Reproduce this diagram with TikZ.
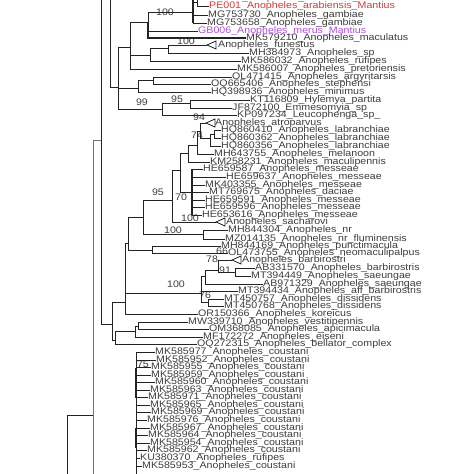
\documentclass[tikz,border=0pt]{standalone}
\usepackage{fontspec}
\newfontfamily\lf{Liberation Sans}[FakeStretch=1.12]
\definecolor{txt}{RGB}{62,62,62}
\definecolor{redl}{RGB}{205,60,60}
\definecolor{purl}{RGB}{175,80,215}
\definecolor{ln}{RGB}{35,35,35}
\begin{document}
\begin{tikzpicture}[x=1pt,y=-1pt,
  lab/.style={anchor=west,inner sep=0pt,font=\lf\fontsize{9.5}{9.5}\selectfont,text=txt,text height=6.8pt,text depth=1.9pt},
  supp/.style={inner sep=0pt,font=\lf\fontsize{9.5}{9.5}\selectfont,text=txt},
  br/.style={draw=ln,line width=0.8pt},
  thk/.style={draw=ln,line width=1.7pt},
  thn/.style={draw=black!55,line width=0.6pt},
  tri/.style={draw=ln,line width=0.8pt,fill=white}]
\useasboundingbox (0,0) rectangle (474,474);
\clip (0,0) rectangle (474,474);
\fill[white] (0,0) rectangle (474,474);

% ---------- internal nodes ----------
\coordinate (R67) at (67,520);
\coordinate (N93) at (93,415);
\coordinate (Nlow) at (120,700);
\coordinate (N101) at (101,140);
\coordinate (N110) at (110,-20);
\coordinate (Ntop) at (130,-60);
\coordinate (N118) at (118,87);
\coordinate (M130) at (130,47);
\coordinate (G148) at (148,22);
\coordinate (G193) at (193,12);
\coordinate (G197) at (197,2);
\coordinate (F150) at (150,55);
\coordinate (F168) at (168,48);
\coordinate (S138) at (138,88);
\coordinate (S153) at (153,80);
\coordinate (K162) at (162,109);
\coordinate (K190) at (190,103);
\coordinate (N112) at (112,324);
\coordinate (Q125) at (125,302);
\coordinate (P128) at (128,243);
\coordinate (M143) at (143,217);
\coordinate (M172) at (172,200);
\coordinate (M180) at (180,170);
\coordinate (L188) at (188,153);
\coordinate (L197) at (197,145);
\coordinate (L200) at (200,131);
\coordinate (L210) at (210,138);
\coordinate (L214) at (214,134);
\coordinate (E192) at (192,192);
\coordinate (N203) at (203,234);
\coordinate (P152) at (152,250);
\coordinate (B201) at (201,293);
\coordinate (B205) at (205,276);
\coordinate (B218) at (218,270);
\coordinate (B235) at (235,272);
\coordinate (D208) at (208,302);
\coordinate (W115) at (115,340);
\coordinate (V135) at (135,331);
\coordinate (V138) at (138,326);
\coordinate (C136) at (136,520);

% triangle apexes
\coordinate (a7) at (207,45);
\coordinate (a17) at (206,123);
\coordinate (a30) at (216,222);
\coordinate (a35) at (232,260);

% ---------- leaves ----------
\node[lab,text=redl] (t1) at (210,-2) {AE001\_Anopheles\_arabiensis\_Mantius};
\node[lab,text=redl] (t2) at (209,6) {PE001\_Anopheles\_arabiensis\_Mantius};
\node[lab,text=purl] (t5) at (198,31) {GB006\_Anopheles\_merus\_Mantius};
\foreach \n/\x/\y/\t in {
 t3/208/15/MG753730\_Anopheles\_gambiae,
 t4/207/23/MG753658\_Anopheles\_gambiae,
 t6/246/38/MK579210\_Anopheles\_maculatus,
 t7/218/45/Anopheles\_funestus,
 t8/249/53/MH384973\_Anopheles\_sp,
 t9/241/61/MK586032\_Anopheles\_rufipes,
 t10/237/69/MK586007\_Anopheles\_pretoriensis,
 t11/232/77/OL471415\_Anopheles\_argyritarsis,
 t12/211/84/OQ665406\_Anopheles\_stephensi,
 t13/211/92/HQ398936\_Anopheles\_minimus,
 t14/250/100/KT116809\_Hylemya\_partita,
 t15/232/108/JF872100\_Emmesomyia\_sp,
 t16/237/115/KP097234\_Leucophenga\_sp\_,
 t17/215/123/Anopheles\_atroparvus,
 t18/221/130/HQ860410\_Anopheles\_labranchiae,
 t19/221/138/HQ860362\_Anopheles\_labranchiae,
 t20/221/146/HQ860356\_Anopheles\_labranchiae,
 t21/214/154/MH643755\_Anopheles\_melanoon,
 t22/210/162/KM258231\_Anopheles\_maculipennis,
 t23/203/169/HE659587\_Anopheles\_messeae,
 t24/226/177/HE659637\_Anopheles\_messeae,
 t25/205/185/MK403355\_Anopheles\_messeae,
 t26/209/192/MT769675\_Anopheles\_daciae,
 t27/205/200/HE659591\_Anopheles\_messeae,
 t28/205/207/HE659596\_Anopheles\_messeae,
 t29/202/215/HE653616\_Anopheles\_messeae,
 t30/226/222/Anopheles\_sacharovi,
 t31/228/230/MH844304\_Anopheles\_nr,
 t32/225/239/MZ014135\_Anopheles\_nr\_fluminensis,
 t33/221/246/MH844169\_Anopheles\_punctimacula,
 t34/228/253/OL473755\_Anopheles\_neomaculipalpus,
 t35/242/260/Anopheles\_barbirostri,
 t36/255/268/AB331570\_Anopheles\_barbirostris,
 t37/251/276/MT394449\_Anopheles\_saeungae,
 t38/263/284/AB971329\_Anopheles\_saeungae,
 t39/238/291/MT394434\_Anopheles\_aff\_barbirostris,
 t40/224/299/MT450757\_Anopheles\_dissidens,
 t41/224/306/MT450768\_Anopheles\_dissidens,
 t42/198/314/OR150366\_Anopheles\_koreicus,
 t43/188/322/MW339710\_Anopheles\_vestitipennis,
 t44/209/329/OM368085\_Anopheles\_apicimacula,
 t45/203/337/MF172272\_Anopheles\_eiseni,
 t46/197/344/OQ272315\_Anopheles\_bellator\_complex,
 c1/155/352/MK585977\_Anopheles\_coustani,
 c2/156/360/MK585952\_Anopheles\_coustani,
 c3/151/367/MK585955\_Anopheles\_coustani,
 c4/151/375/MK585959\_Anopheles\_coustani,
 c5/155/382/MK585960\_Anopheles\_coustani,
 c6/150/390/MK585963\_Anopheles\_coustani,
 c7/148/397/MK585971\_Anopheles\_coustani,
 c8/150/405/MK585965\_Anopheles\_coustani,
 c9/151/412/MK585969\_Anopheles\_coustani,
 c10/147/420/MK585976\_Anopheles\_coustani,
 c11/150/428/MK585967\_Anopheles\_coustani,
 c12/148/435/MK585964\_Anopheles\_coustani,
 c13/150/443/MK585954\_Anopheles\_coustani,
 c14/147/450/MK585962\_Anopheles\_coustani,
 c15/140/458/KU380370\_Anopheles\_rufipes,
 c16/142/466/MK585953\_Anopheles\_coustani}
 \node[lab] (\n) at (\x,\y) {\t};

% ---------- support values ----------
\foreach \n/\x/\y/\t in {s1/165/12/100, s2/186/41/100, s3/142/102/99, s4/177/99/95,
  s5/199/117/94, s6/197/135/74, s7/158/192/95, s8/181/197/70, s9/190/218/100,
  s10/173/230/100, s11/222/251/66, s12/212/259/78, s13/225/270/91, s14/176/284/100,
  s15/205/295/76, s16/143/364/75}
 \node[supp] (\n) at (\x,\y) {\t};

% ---------- connectors between internal nodes ----------
\draw[br] (R67) |- (N93);
\draw[thn] (N93) |- (Nlow);
\draw[thn] (N93) |- (N101);
\foreach \a/\b in {N101/N110, N101/N112, N110/Ntop, N110/N118,
  N118/M130, N118/S138, N118/K162,
  M130/G148, M130/F150, G148/G193, G193/G197, F150/F168, F168/a7,
  S138/S153, K162/K190,
  N112/Q125, N112/W115, Q125/P128, Q125/B201, P128/M143, P128/P152,
  M143/M172, M143/N203, M172/M180, M172/a30, M180/L188, M180/E192,
  L188/L197, L197/L200, L200/a17, L200/L210, L210/L214,
  B201/B205, B201/D208, B205/B218, B218/a35, B218/B235,
  W115/V135, V135/V138}
 \draw[br] (\a) |- (\b);

% ---------- connectors to leaves ----------
\foreach \a/\b in {G197/t1, G197/t2, G193/t3, G193/t4, G148/t5, F168/t8, F150/t9,
  M130/t10, S153/t11, S153/t12, S138/t13, K190/t14, K190/t15, K162/t16,
  L214/t18, L214/t19, L210/t20, L197/t21, L188/t22,
  E192/t23, E192/t24, E192/t25, E192/t26, E192/t27, E192/t28, E192/t29,
  N203/t31, N203/t32, P152/t33, P152/t34, B235/t36, B235/t37, B205/t38,
  B201/t39, D208/t40, D208/t41, Q125/t42, V138/t43, V138/t44, V135/t45, W115/t46,
  C136/c1, C136/c2, C136/c3, C136/c4, C136/c5, C136/c6, C136/c7, C136/c8,
  C136/c9, C136/c10, C136/c11, C136/c12, C136/c13, C136/c14, C136/c15, C136/c16}
 \draw[br] (\a) |- (\b.west);
\draw[thk] (G148) |- (t6.west);
\draw[thk] (G193 |- t1) -- (G193 |- t4);
\draw[thk] (E192 |- t23) -- (E192 |- t29);
\draw[thk] (136,368) -- (136,398);
\draw[thk] (136,428) -- (136,448);

% ---------- collapsed clades ----------
\foreach \a in {a7,a17,a30,a35}
 \draw[tri] (\a) -- ++(9,-4) -- ++(0,8) -- cycle;
\end{tikzpicture}
\end{document}
